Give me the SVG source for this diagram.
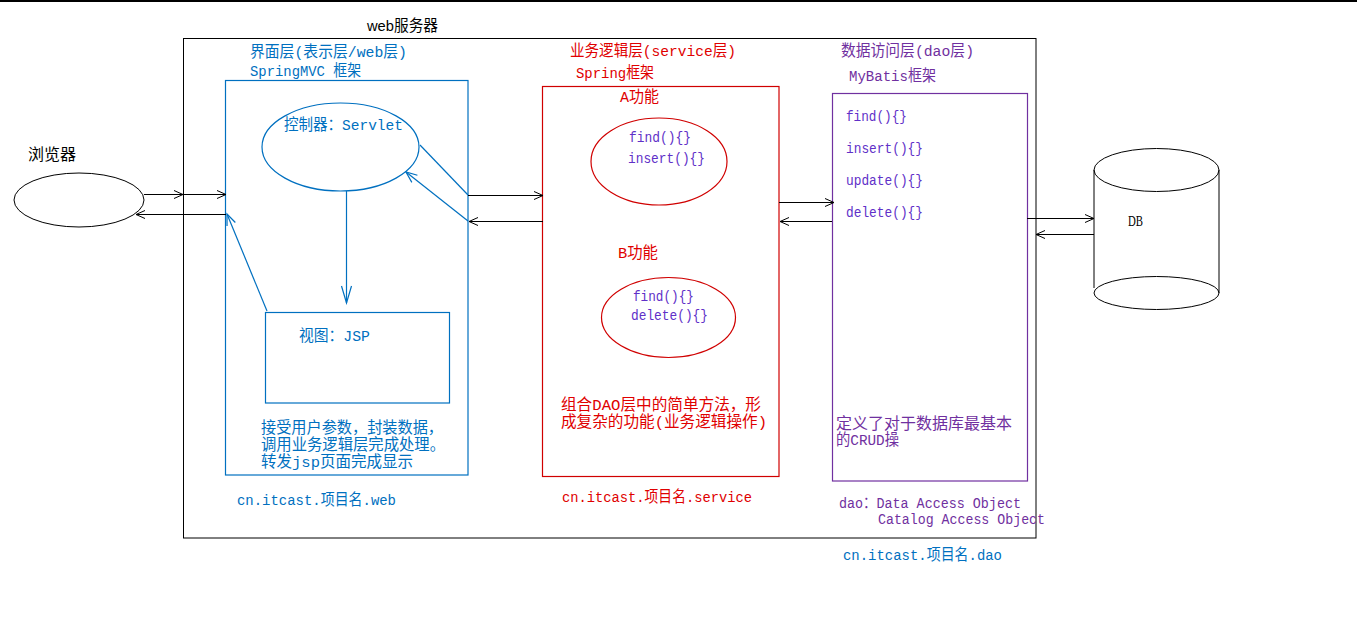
<svg xmlns="http://www.w3.org/2000/svg" width="1357" height="619" viewBox="0 0 1357 619">
<style>
text{font-family:'Liberation Mono','Noto Sans CJK SC',monospace;font-size:15.5px}
.sans{font-family:'Liberation Sans','Noto Sans CJK SC',sans-serif}
.serif{font-family:'Liberation Serif','Noto Sans CJK SC',serif}
.bk{fill:#000}
.bl{fill:#0070c0}
.rd{fill:#e00000}
.pp{fill:#7030a0}
.pm{fill:#6030c8}
.sb{fill:none;stroke:#000;stroke-width:1}
.sbl{fill:none;stroke:#0070c0;stroke-width:1.2}
.srd{fill:none;stroke:#d00000;stroke-width:1.2}
.spp{fill:none;stroke:#7030a0;stroke-width:1.2}
</style>
<defs>
<marker id="ab" markerUnits="userSpaceOnUse" markerWidth="12" markerHeight="12" viewBox="-10 -6 12 12" refX="0" refY="0" orient="auto"><path d="M-9,-4 L0,0 L-9,4" fill="none" stroke="#000" stroke-width="1"/></marker>
<marker id="abl" markerUnits="userSpaceOnUse" markerWidth="14" markerHeight="14" viewBox="-12 -7 14 14" refX="0" refY="0" orient="auto"><path d="M-11,-4.5 L0,0 L-11,4.5" fill="none" stroke="#0070c0" stroke-width="1.2"/></marker>
<marker id="abl2" markerUnits="userSpaceOnUse" markerWidth="20" markerHeight="14" viewBox="-18 -7 20 14" refX="0" refY="0" orient="auto"><path d="M-17,-5 L0,0 L-17,5" fill="none" stroke="#0070c0" stroke-width="1.2"/></marker>
</defs>
<rect width="1357" height="619" fill="#fff"/>
<line x1="0" y1="1" x2="1357" y2="1" stroke="#000" stroke-width="2"/>

<g id="browser">
<ellipse cx="79" cy="200" rx="65" ry="27" class="sb"/>
<text x="28" y="160" class="sans bk" font-size="16" textLength="48" lengthAdjust="spacingAndGlyphs">浏览器</text>
</g>

<g id="web-server">
<rect x="183.5" y="38.5" width="852.5" height="499.5" class="sb"/>
<text x="367" y="31" class="sans bk" font-size="15" textLength="71" lengthAdjust="spacingAndGlyphs">web服务器</text>
</g>

<g id="web-layer">
<rect x="225.5" y="80.5" width="242.5" height="394.5" class="sbl"/>
<text x="250" y="57" class="bl" textLength="157" lengthAdjust="spacingAndGlyphs">界面层(表示层/web层)</text>
<text x="250" y="76" class="bl" textLength="111" lengthAdjust="spacingAndGlyphs">SpringMVC 框架</text>
<text x="261" y="433" class="bl" textLength="182" lengthAdjust="spacingAndGlyphs">接受用户参数，封装数据，</text>
<text x="261" y="450" class="bl" textLength="184" lengthAdjust="spacingAndGlyphs">调用业务逻辑层完成处理。</text>
<text x="261" y="467" class="bl" textLength="152" lengthAdjust="spacingAndGlyphs">转发jsp页面完成显示</text>
<text x="237" y="505" class="bl" textLength="159" lengthAdjust="spacingAndGlyphs">cn.itcast.项目名.web</text>
</g>

<g id="controller">
<ellipse cx="340.5" cy="147" rx="78.5" ry="44" class="sbl"/>
<text x="284" y="130" class="bl" textLength="119" lengthAdjust="spacingAndGlyphs">控制器：Servlet</text>
</g>

<g id="view">
<rect x="265.5" y="312.5" width="184" height="90.5" class="sbl"/>
<text x="299" y="341" class="bl" textLength="71" lengthAdjust="spacingAndGlyphs">视图：JSP</text>
</g>

<g id="service-layer">
<rect x="542.5" y="86.5" width="236.5" height="390" class="srd"/>
<text x="570" y="56" class="rd" textLength="166" lengthAdjust="spacingAndGlyphs">业务逻辑层(service层)</text>
<text x="576" y="78" class="rd" textLength="78" lengthAdjust="spacingAndGlyphs">Spring框架</text>
<text x="561" y="410" class="rd" textLength="200" lengthAdjust="spacingAndGlyphs">组合DAO层中的简单方法，形</text>
<text x="561" y="427" class="rd" textLength="206" lengthAdjust="spacingAndGlyphs">成复杂的功能(业务逻辑操作)</text>
<text x="562" y="502" class="rd" textLength="190" lengthAdjust="spacingAndGlyphs">cn.itcast.项目名.service</text>
</g>

<g id="function-a">
<text x="620" y="102" class="rd" textLength="39" lengthAdjust="spacingAndGlyphs">A功能</text>
<ellipse cx="659" cy="161.5" rx="68" ry="43.5" class="srd"/>
<text x="629" y="142" class="pm" textLength="62" lengthAdjust="spacingAndGlyphs">find(){}</text>
<text x="628" y="163" class="pm" textLength="77" lengthAdjust="spacingAndGlyphs">insert(){}</text>
</g>

<g id="function-b">
<text x="618" y="258" class="rd" textLength="40" lengthAdjust="spacingAndGlyphs">B功能</text>
<ellipse cx="668.5" cy="317.5" rx="67" ry="40" class="srd"/>
<text x="633" y="301" class="pm" textLength="61" lengthAdjust="spacingAndGlyphs">find(){}</text>
<text x="631" y="320" class="pm" textLength="77" lengthAdjust="spacingAndGlyphs">delete(){}</text>
</g>

<g id="dao-layer">
<rect x="832.5" y="93.5" width="195" height="387.5" class="spp"/>
<text x="841" y="56" class="pp" textLength="133" lengthAdjust="spacingAndGlyphs">数据访问层(dao层)</text>
<text x="849" y="81" class="pp" textLength="87" lengthAdjust="spacingAndGlyphs">MyBatis框架</text>
<text x="846" y="121" class="pm" textLength="61" lengthAdjust="spacingAndGlyphs">find(){}</text>
<text x="846" y="153" class="pm" textLength="77" lengthAdjust="spacingAndGlyphs">insert(){}</text>
<text x="846" y="185" class="pm" textLength="77" lengthAdjust="spacingAndGlyphs">update(){}</text>
<text x="846" y="217" class="pm" textLength="77" lengthAdjust="spacingAndGlyphs">delete(){}</text>
<text x="836" y="429" class="pp" font-size="14" textLength="176" lengthAdjust="spacingAndGlyphs">定义了对于数据库最基本</text>
<text x="836" y="445" class="pp" font-size="14" textLength="63" lengthAdjust="spacingAndGlyphs">的CRUD操</text>
<text x="839" y="508" class="pp" textLength="182" lengthAdjust="spacingAndGlyphs">dao：Data Access Object</text>
<text x="878" y="524" class="pp" textLength="167" lengthAdjust="spacingAndGlyphs">Catalog Access Object</text>
<text x="843" y="560" class="bl" textLength="159" lengthAdjust="spacingAndGlyphs">cn.itcast.项目名.dao</text>
</g>

<g id="db">
<path d="M1094,170 L1094,288 M1219,170 L1219,293" class="sb"/>
<ellipse cx="1156.5" cy="170" rx="62.5" ry="21.5" class="sb" fill="#fff"/>
<ellipse cx="1156.5" cy="293" rx="62.5" ry="16.5" class="sb"/>
<text x="1128" y="226" class="serif bk" font-size="15" textLength="15" lengthAdjust="spacingAndGlyphs">DB</text>
</g>

<g id="connectors">
<line x1="144" y1="194.5" x2="183" y2="194.5" class="sb" marker-end="url(#ab)"/>
<line x1="183" y1="194.5" x2="226" y2="194.5" class="sb" marker-end="url(#ab)"/>
<line x1="226" y1="214.5" x2="136" y2="214.5" class="sb" marker-end="url(#ab)"/>
<line x1="346.5" y1="191" x2="346.5" y2="303" class="sbl" marker-end="url(#abl2)"/>
<line x1="267" y1="311" x2="227" y2="214" class="sbl" marker-end="url(#abl)"/>
<line x1="420" y1="145" x2="468" y2="195" class="sbl"/>
<line x1="468" y1="221" x2="406" y2="172" class="sbl" marker-end="url(#abl)"/>
<line x1="468" y1="195.5" x2="543" y2="195.5" class="sb" marker-end="url(#ab)"/>
<line x1="543" y1="221.5" x2="469" y2="221.5" class="sb" marker-end="url(#ab)"/>
<line x1="779" y1="202.5" x2="834" y2="202.5" class="sb" marker-end="url(#ab)"/>
<line x1="832" y1="221.5" x2="780" y2="221.5" class="sb" marker-end="url(#ab)"/>
<line x1="1027" y1="218.5" x2="1094" y2="218.5" class="sb" marker-end="url(#ab)"/>
<line x1="1094" y1="234.5" x2="1036" y2="234.5" class="sb" marker-end="url(#ab)"/>
</g>
</svg>
